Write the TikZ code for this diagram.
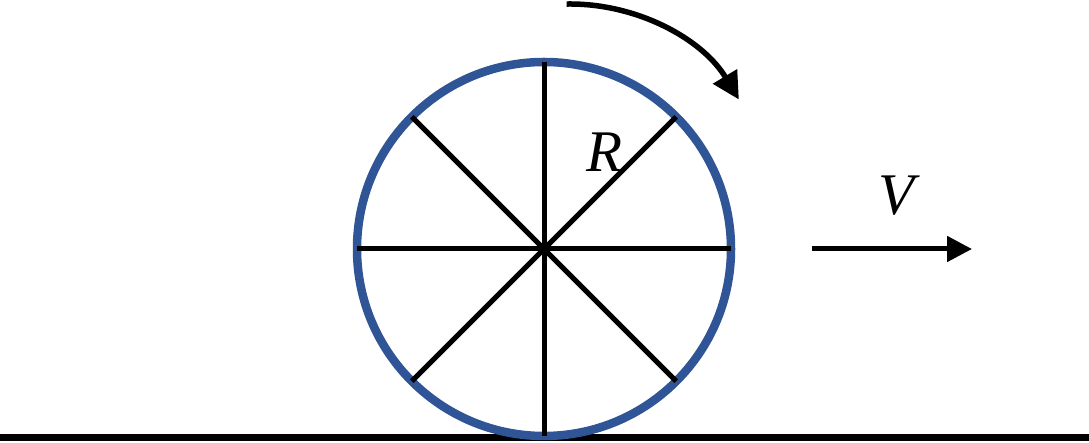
\documentclass[tikz,border=0pt]{standalone}
\usepackage{fontspec}
\setmainfont{Liberation Serif}
\usetikzlibrary{arrows.meta,calc}
\definecolor{wheelblue}{HTML}{2F5597}
\tikzset{
  spoke/.style={line width=5pt, black},
  rim/.style={draw=wheelblue, line width=8.5pt, circle, minimum size=374pt, inner sep=0pt},
  ground/.style={line width=7pt, black},
  motion/.style={line width=5pt, -{Triangle[length=25pt,width=25pt]}},
  spin/.style={line width=5.5pt, -{Triangle[length=27pt,width=27pt]}},
  lbl/.style={inner sep=0pt, font=\fontsize{59}{62}\selectfont\itshape}
}
\begin{document}
\begin{tikzpicture}[x=1pt,y=1pt]
\useasboundingbox (0,0) rectangle (1089,443);
% ground
\coordinate (gl) at (0,5.5);
\coordinate (gr) at (1089,5.5);
\draw[ground] (gl) -- (gr);
% wheel
\coordinate (c) at (544,194);
\node[rim] (wheel) at (c) {};
\foreach \a in {0,45,...,315}{
  \draw[spoke] (c) -- ++(\a:187);
}
% labels
\node[lbl] (R) at (605,291) {R};
\node[lbl] (V) at (897,247) {V};
% velocity arrow
\coordinate (va) at (812,194);
\coordinate (vb) at (972,194);
\draw[motion] (va) -- (vb);
% rotation arrow
\coordinate (sc) at (570,242);
\coordinate (s0) at ($(sc)+(91:197)$);
\draw[spin] (s0) arc[start angle=91, end angle=31, radius=197];
\end{tikzpicture}
\end{document}
